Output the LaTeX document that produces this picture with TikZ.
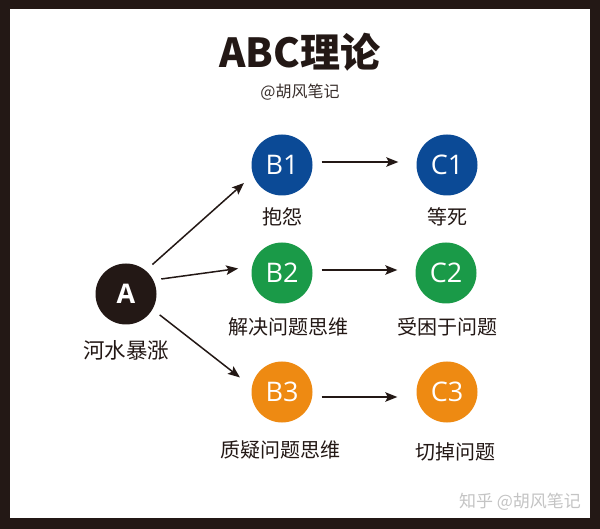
\documentclass[tikz,border=0pt]{standalone}
\usepackage{fontspec}
\setmainfont{Noto Sans CJK SC}
\newfontfamily\latinf{Open Sans}
\usetikzlibrary{arrows.meta}
\definecolor{frame}{HTML}{231815}
\definecolor{cblue}{HTML}{0B4A96}
\definecolor{cgreen}{HTML}{1A9A48}
\definecolor{corange}{HTML}{EE8A12}
\definecolor{wm}{HTML}{C4C4C4}
\begin{document}
\begin{tikzpicture}[x=1pt,y=-1pt,
  ball/.style={circle,minimum size=61pt,inner sep=0pt,text=white,font=\latinf\fontsize{27}{27}\selectfont},
  lab/.style={text=frame,font=\fontsize{20}{20}\selectfont,inner sep=0pt},
  arr/.style={-{Stealth[length=12pt,width=9.5pt,inset=2.5pt]},line width=1.5pt,draw=frame}]
\useasboundingbox (0,0) rectangle (600,529);
\fill[frame] (0,0) rectangle (600,529);
\fill[white] (10,9) rectangle (590,518);
\node[text=frame,font=\bfseries\fontsize{40}{40}\selectfont,inner sep=0pt] (title) at (300,52) {ABC理论};
\node[text=frame!90,font=\fontsize{16}{16}\selectfont,inner sep=0pt] (sub) at (300,92) {@胡风笔记};
\node[ball,fill=frame,font=\latinf\bfseries\fontsize{27}{27}\selectfont] (A) at (126,294) {A};
\node[ball,fill=cblue] (B1) at (282,165) {B1};
\node[ball,fill=cblue] (C1) at (447,165) {C1};
\node[ball,fill=cgreen] (B2) at (282,273) {B2};
\node[ball,fill=cgreen] (C2) at (446,273) {C2};
\node[ball,fill=corange] (B3) at (282,392) {B3};
\node[ball,fill=corange] (C3) at (447,392) {C3};
\node[lab,font=\fontsize{21.5}{21.5}\selectfont] (la) at (126,350) {河水暴涨};
\node[lab] (lb1) at (282,217) {抱怨};
\node[lab] (lc1) at (447,217) {等死};
\node[lab] (lb2) at (288,327) {解决问题思维};
\node[lab] (lc2) at (447,327) {受困于问题};
\node[lab] (lb3) at (280,450) {质疑问题思维};
\node[lab] (lc3) at (455,452) {切掉问题};
\node[text=wm,font=\fontsize{17}{17}\selectfont,inner sep=0pt] (wmk) at (520,502) {知乎 @胡风笔记};
\draw[arr,shorten <=9pt,shorten >=12pt] (A.50) -- (B1.199);
\draw[arr,shorten <=8pt,shorten >=14pt] (A.27) -- (B2.168);
\draw[arr,shorten <=9pt,shorten >=15pt] (A.-30) -- (B3.170);
\draw[arr,shorten <=9pt,shorten >=18pt] ([yshift=3pt]B1.east) -- ([yshift=3pt]C1.west);
\draw[arr,shorten <=9pt,shorten >=18pt] ([yshift=3pt]B2.east) -- ([yshift=3pt]C2.west);
\draw[arr,shorten <=9pt,shorten >=19pt] ([yshift=-5pt]B3.east) -- ([yshift=-5pt]C3.west);
\end{tikzpicture}
\end{document}
